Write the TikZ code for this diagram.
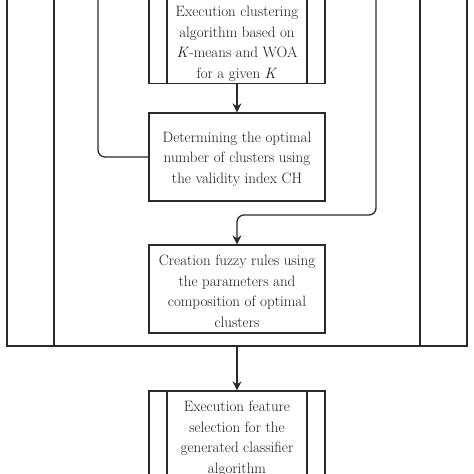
\documentclass[tikz,border=0pt]{standalone}
\usetikzlibrary{arrows.meta,calc}
\definecolor{ln}{HTML}{2A2A2A}
\definecolor{tx}{HTML}{1A1A1A}
\newcommand{\topstrut}{\rule{0pt}{15pt}}
\begin{document}
\begin{tikzpicture}[x=1pt,y=-1pt,
  box/.style={draw=ln,line width=1.3pt,rectangle,minimum width=176pt,inner sep=0pt,
    align=center,text=tx,font=\fontsize{15}{20.5}\selectfont},
  ppbox/.style={box,path picture={
    \draw[ln,line width=1.3pt] ([xshift=18pt]path picture bounding box.north west) -- ([xshift=18pt]path picture bounding box.south west);
    \draw[ln,line width=1.3pt] ([xshift=-18pt]path picture bounding box.north east) -- ([xshift=-18pt]path picture bounding box.south east);}},
  arr/.style={draw=ln,line width=1.3pt,-{Stealth[length=9pt,width=9pt]}},
  con/.style={draw=ln,line width=1.3pt,rounded corners=7pt},
  frame/.style={draw=ln,line width=1.3pt}]
\useasboundingbox (0,0) rectangle (474,474);
\clip (0,0) rectangle (474,474);
% large predefined-process frame
\node[draw=ln,line width=1.3pt,rectangle,minimum width=460pt,minimum height=356pt,inner sep=0pt] (big) at (237,168) {};
\draw[frame] (54,-10) -- (54,346);
\draw[frame] (420,-10) -- (420,346);
% boxes
\node[ppbox,minimum height=84pt] (b1) at (237,41.5) {\topstrut Execution clustering\\algorithm based on\\\textit{K}-means and WOA\\for a given \textit{K}};
\node[box,minimum height=88pt] (b2) at (237,157) {\topstrut Determining the optimal\\number of clusters using\\the validity index CH};
\node[box,minimum height=88pt] (b3) at (237,289) {\topstrut Creation fuzzy rules using\\the parameters and\\composition of optimal\\clusters};
\node[ppbox,minimum height=91pt] (b4) at (237,436.5) {\topstrut Execution feature\\selection for the\\generated classifier\\algorithm};
% connectors
\coordinate (ltop) at (98,-10);
\coordinate (rtop) at (376,-10);
\draw[arr] (b1.south) -- (b2.north);
\draw[con] (b2.west) -- (ltop |- b2.west) -- (ltop);
\draw[con,-{Stealth[length=9pt,width=9pt]}] (rtop) -- (376,215) -- (237,215) -- (b3.north);
\draw[arr] (big.south) -- (b4.north);
\end{tikzpicture}
\end{document}
